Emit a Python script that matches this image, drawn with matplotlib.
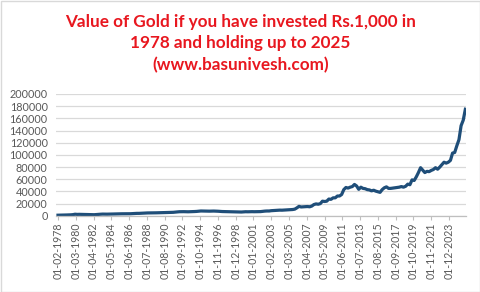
import matplotlib.pyplot as plt
import numpy as np

# value of Rs.1,000 put in gold in Feb 1978, read every 3 months (Feb, May, Aug, Nov)
gold_value = [
    1000, 1050, 1120, 1250,        # 1978
    1350, 1450, 1600, 1900,        # 1979
    2600, 2300, 2400, 2300,        # 1980
    2200, 2000, 1900, 1800,        # 1981
    1750, 1800, 2100, 2300,        # 1982
    2600, 2800, 2700, 2700,        # 1983
    2800, 2900, 3000, 3000,        # 1984
    3100, 3200, 3300, 3300,        # 1985
    3300, 3300, 3400, 3600,        # 1986
    3800, 4000, 4000, 4200,        # 1987
    4500, 4600, 4700, 4800,        # 1988
    4800, 4800, 4900, 5000,        # 1989
    5000, 5100, 5200, 5300,        # 1990
    5400, 5500, 5700, 6100,        # 1991
    6400, 6700, 6800, 6800,        # 1992
    6700, 6600, 6700, 6900,        # 1993
    7000, 7200, 7600, 7900,        # 1994
    7800, 7700, 7600, 7600,        # 1995
    7700, 7800, 7700, 7500,        # 1996
    7200, 7000, 6900, 6800,        # 1997
    6600, 6500, 6400, 6300,        # 1998
    6300, 6200, 6200, 6500,        # 1999
    6700, 6600, 6700, 6800,        # 2000
    6700, 6800, 6900, 6900,        # 2001
    7300, 7700, 7900, 7900,        # 2002
    8400, 8600, 8800, 9100,        # 2003
    9300, 9200, 9400, 9600,        # 2004
    9800, 10000, 10300, 10900,     # 2005
    13000, 15500, 14500, 14800,    # 2006
    15000, 15200, 14800, 16000,    # 2007
    18500, 19500, 19000, 20000,    # 2008
    24000, 23500, 24000, 27500,    # 2009
    27000, 29500, 29500, 32500,    # 2010
    32500, 35000, 43000, 46500,    # 2011
    45500, 47000, 48000, 51500,    # 2012
    49000, 43500, 47000, 45000,    # 2013
    44500, 43000, 42500, 41000,    # 2014
    42000, 40500, 39500, 38500,    # 2015
    43000, 46000, 47500, 45000,    # 2016
    45000, 45500, 46000, 46500,    # 2017
    47000, 48000, 47000, 48500,    # 2018
    52000, 51000, 59000, 58000,    # 2019
    64000, 71000, 79000, 75000,    # 2020
    71000, 73000, 72500, 74500,    # 2021
    76000, 79000, 76500, 80000,    # 2022
    84000, 88000, 86500, 88000,    # 2023
    91000, 103000, 104000, 115000, # 2024
    125000, 148000, 157000, 175000 # 2025
]
step_months = 3

tick_labels = ['01-02-1978', '01-03-1980', '01-04-1982', '01-05-1984', '01-06-1986',
               '01-07-1988', '01-08-1990', '01-09-1992', '01-10-1994', '01-11-1996',
               '01-12-1998', '01-01-2001', '01-02-2003', '01-03-2005', '01-04-2007',
               '01-05-2009', '01-06-2011', '01-07-2013', '01-08-2015', '01-09-2017',
               '01-10-2019', '01-11-2021', '01-12-2023']
tick_every = 25  # months between labels
y_ticks = list(range(0, 200001, 20000))

title = 'Value of Gold if you have invested Rs.1,000 in\n1978 and holding up to 2025\n(www.basunivesh.com)'

W, H = 481, 292
fig = plt.figure(figsize=(W / 100, H / 100), dpi=100)
ax = fig.add_axes([56 / W, 1 - 215.8 / H, 410 / W, (215.8 - 94) / H])

months = np.arange(len(gold_value)) * step_months
ax.plot(months, gold_value, color='#1F4E79', lw=2.3, solid_joinstyle='round')

ax.set_ylim(0, 200000)
ax.set_xlim(-2.8, 573.9)
ax.set_yticks(y_ticks)
ax.set_yticklabels([str(v) for v in y_ticks], fontfamily='Lato', fontsize=7.8, color='#595959')
ax.set_xticks(np.arange(len(tick_labels)) * tick_every)
ax.set_xticklabels(tick_labels, rotation=90, fontfamily='Lato', fontsize=7.6, color='#595959')
ax.tick_params(axis='y', length=0, pad=6)
ax.tick_params(axis='x', length=3, color='#BFBFBF', pad=2)
ax.grid(axis='y', color='#D9D9D9', lw=0.9)
ax.set_axisbelow(True)
for s in ['top', 'right', 'left']:
    ax.spines[s].set_visible(False)
ax.spines['bottom'].set_color('#BFBFBF')
ax.spines['bottom'].set_linewidth(0.9)

fig.text(0.5, 1 - 14 / H, title, ha='center', va='top', fontfamily='Lato', fontweight='bold',
         fontsize=12.3, color='#E8171F', linespacing=1.42)

fig.add_artist(plt.Rectangle((0.5 / W, 0.5 / H), 1 - 1.5 / W, 1 - 1.5 / H, transform=fig.transFigure,
                             fill=False, ec='#D9D9D9', lw=1))

fig.savefig('out.png', dpi=100)
